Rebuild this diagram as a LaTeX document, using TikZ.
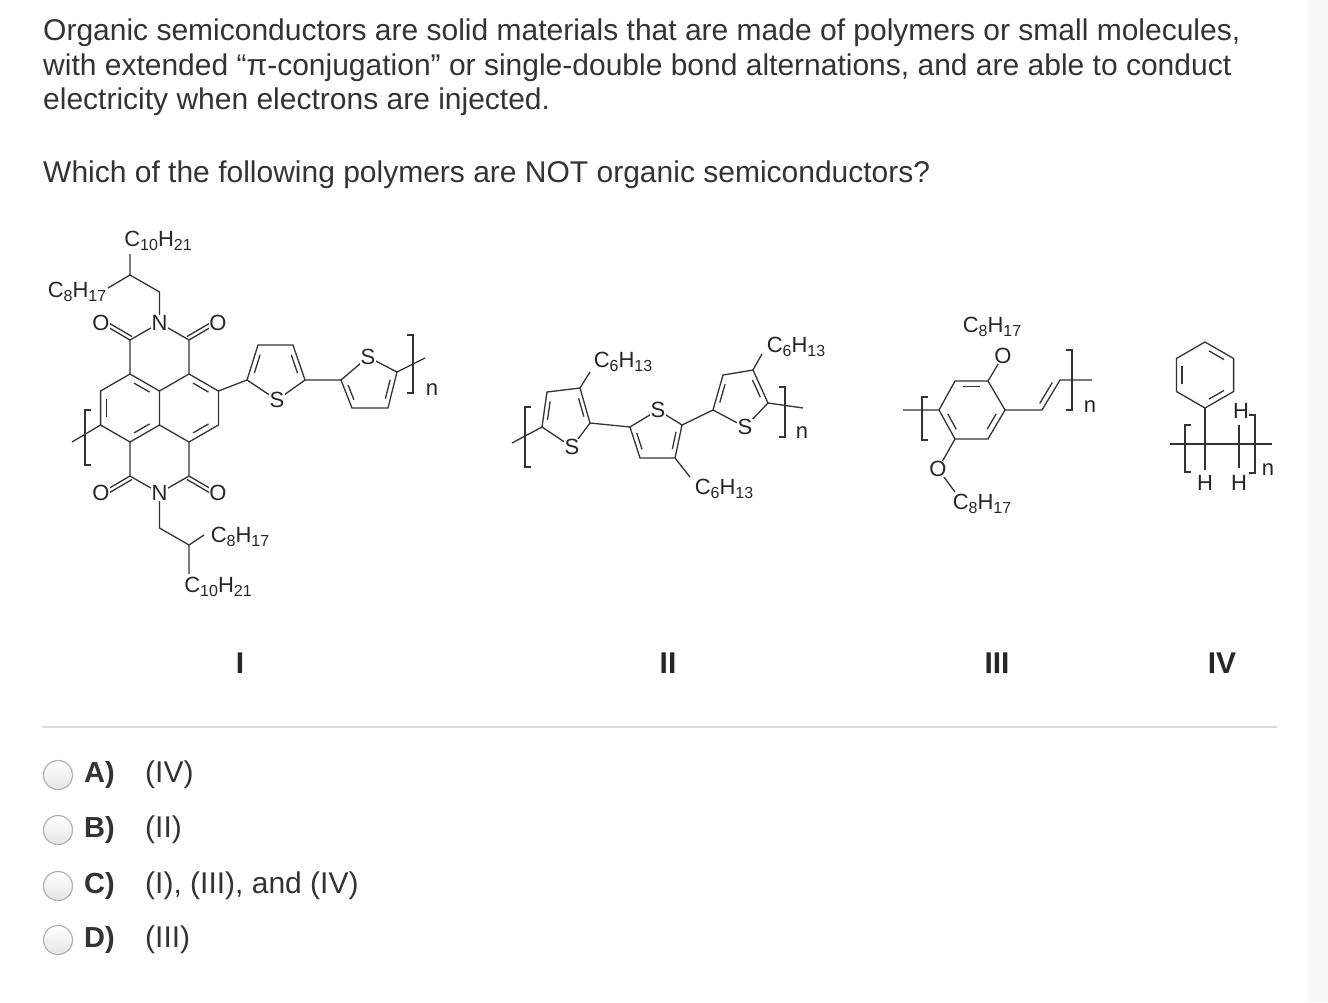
\documentclass[tikz,border=0pt]{standalone}
\usepackage{fontspec}
\setmainfont{Liberation Sans}
\usetikzlibrary{calc}
\newcommand\chf{\fontsize{22}{23}\selectfont}
\newcommand\sbs[1]{\raisebox{-0.3ex}{\fontsize{16}{16}\selectfont #1}}
\newcommand\dbl[3]{\draw[bond] ($($(#1)!0.17!(#2)$)!0.2!(#3)$) -- ($($(#2)!0.17!(#1)$)!0.2!(#3)$);}
\newcommand\dblo[2]{\draw[bond] ($(#1)!4pt!90:(#2)$) -- ($(#2)!4pt!-90:(#1)$);}
\tikzset{
 bond/.style={line width=1.3pt, draw=black!80},
 atom/.style={font=\chf, fill=white, inner sep=0.5pt, text=black!85},
 lab/.style={font=\chf, inner sep=0pt, text=black!85},
 txt/.style={font=\fontsize{30}{34}\selectfont, anchor=west, inner sep=0pt, text=black!80},
 num/.style={font=\fontsize{30}{30}\selectfont\bfseries, inner sep=0pt, text=black!85},
 opt/.style={circle, minimum size=29pt, inner sep=0pt, draw=black!30, line width=1.2pt, top color=white, bottom color=black!10},
}
\begin{document}
\begin{tikzpicture}[x=1pt,y=-1pt]
\useasboundingbox (0,0) rectangle (1328,1002);
\fill[black!3] (1308,0) rectangle (1328,1002);
% text
\node[txt] (t1) at (43,33) {Organic semiconductors are solid materials that are made of polymers or small molecules,};
\node[txt] (t2) at (43,68) {with extended “π-conjugation” or single-double bond alternations, and are able to conduct};
\node[txt] (t3) at (43,102) {electricity when electrons are injected.};
\node[txt] (q) at (43,175) {Which of the following polymers are NOT organic semiconductors?};
% ===== Structure I =====
\foreach \n/\x/\y in {Lt/130/374,Lur/159.5/391,Llr/159.5/425,Lb/130/442,Lll/100.6/425,Lul/100.6/391,
 Rt/189/374,Rur/218.4/391,Rlr/218.4/425,Rb/189/442,Lc/130/408,Rc/189/408,
 C1/130/340,C2/189/340,N1/159.5/323,O1/101/323,O2/218/323,
 C3/130/476,C4/189/476,N2/159.5/493,O3/101/493,O4/218/493,
 a1/159.5/292,a2/130/275,a3/130/254,a4/108/288,
 b1/159.5/528,b2/189/545,b3/204/535,b4/189/574,
 e1/72/442,
 t1a/247/380,t1b/258/345,t1c/293/345,t1d/305/380,t1s/277/400,t1m/276/370,
 t2a/341/380,t2b/352/408,t2c/388/408,t2d/397/372,t2s/368/357,t2m/369/386,e2/425/358}
 {\coordinate (\n) at (\x,\y);}
\draw[bond] (Lt)--(Lur)--(Llr)--(Lb)--(Lll)--(Lul)--cycle;
\draw[bond] (Lur)--(Rt)--(Rur)--(Rlr)--(Rb)--(Llr);
\dbl{Lul}{Lll}{Lc}\dbl{Lt}{Lur}{Lc}\dbl{Lb}{Llr}{Lc}\dbl{Rt}{Rur}{Rc}\dbl{Rlr}{Rb}{Rc}
\draw[bond] (Lt)--(C1)--(N1)--(C2)--(Rt);
\draw[bond] (Lb)--(C3)--(N2)--(C4)--(Rb);
\draw[bond] (C1)--(O1) (C2)--(O2) (C3)--(O3) (C4)--(O4);
\dblo{O1}{C1}\dblo{C2}{O2}\dblo{C3}{O3}\dblo{O4}{C4}
\draw[bond] (N1)--(a1)--(a2)--(a3) (a2)--(a4);
\draw[bond] (N2)--(b1)--(b2)--(b3) (b2)--(b4);
\draw[bond] (Lll)--(e1) (Rur)--(t1a);
\draw[bond] (t1a)--(t1b)--(t1c)--(t1d)--(t1s)--cycle;
\dbl{t1a}{t1b}{t1m}\dbl{t1c}{t1d}{t1m}
\draw[bond] (t1d)--(t2a) (t2d)--(e2);
\draw[bond] (t2a)--(t2b)--(t2c)--(t2d)--(t2s)--cycle;
\dbl{t2a}{t2b}{t2m}\dbl{t2c}{t2d}{t2m}
\draw[bond] (91,410)--(85,410)--(85,465)--(91,465);
\draw[bond] (407,335)--(413,335)--(413,393)--(407,393);
\node[atom] (nN1) at (N1) {N}; \node[atom] (nN2) at (N2) {N};
\node[atom] (nO1) at (O1) {O}; \node[atom] (nO2) at (O2) {O};
\node[atom] (nO3) at (O3) {O}; \node[atom] (nO4) at (O4) {O};
\node[atom] (nS1) at (t1s) {S}; \node[atom] (nS2) at (t2s) {S};
\node[lab] (c10a) at (158,241) {C\sbs{10}H\sbs{21}};
\node[lab] (c8a) at (77,292) {C\sbs{8}H\sbs{17}};
\node[lab] (c8b) at (240,537) {C\sbs{8}H\sbs{17}};
\node[lab] (c10b) at (218,587) {C\sbs{10}H\sbs{21}};
\node[lab] (n1) at (432,390) {n};
\node[num] (L1) at (240,663) {I};
% ===== Structure II =====
\foreach \n/\x/\y in {as/572/447, ac5/542/427,ac4/547/392,ac3/580/388,ac2/590/423,am/566/415,
 bs/658/410,bc2/630/427,bc3/640/458,bc4/675/458,bc5/682/425,bm/657/436,
 cs/745/427,cc2/713/410,cc3/723/375,cc4/753/370,cc5/768/403,cm/740/397,
 s1/590/372,s2/690/477,s3/762/354,f1/512/443,f2/803/408}
 {\coordinate (\n) at (\x,\y);}
\draw[bond] (ac2)--(ac3)--(ac4)--(ac5)--(as)--cycle;
\dbl{ac5}{ac4}{am}\dbl{ac3}{ac2}{am}
\draw[bond] (bc2)--(bc3)--(bc4)--(bc5)--(bs)--cycle;
\dbl{bc2}{bc3}{bm}\dbl{bc4}{bc5}{bm}
\draw[bond] (cc2)--(cc3)--(cc4)--(cc5)--(cs)--cycle;
\dbl{cc2}{cc3}{cm}\dbl{cc4}{cc5}{cm}
\draw[bond] (ac2)--(bc2) (bc5)--(cc2) (ac3)--(s1) (bc4)--(s2) (cc4)--(s3) (ac5)--(f1) (cc5)--(f2);
\draw[bond] (531,407)--(525,407)--(525,467)--(531,467);
\draw[bond] (779,387)--(785,387)--(785,437)--(779,437);
\node[atom] (sA) at (as) {S}; \node[atom] (sB) at (bs) {S}; \node[atom] (sC) at (cs) {S};
\node[lab] (h1) at (623,362) {C\sbs{6}H\sbs{13}};
\node[lab] (h2) at (724,489) {C\sbs{6}H\sbs{13}};
\node[lab] (h3) at (796,347) {C\sbs{6}H\sbs{13}};
\node[lab] (n2) at (802,433) {n};
\node[num] (L2) at (668,663) {II};
% ===== Structure III =====
\foreach \n/\x/\y in {pL/939/410,pUL/955/381,pUR/988/381,pR/1005/410,pLR/988/439,pLL/955/439,pc/972/410,
 pO1/1003/356,pO2/938/469,pq/955/492,g1/903/410,v1/1042/410,v2/1060/380,v3/1092/380}
 {\coordinate (\n) at (\x,\y);}
\draw[bond] (pL)--(pUL)--(pUR)--(pR)--(pLR)--(pLL)--cycle;
\dbl{pUL}{pUR}{pc}\dbl{pR}{pLR}{pc}\dbl{pLL}{pL}{pc}
\draw[bond] (pUR)--(pO1) (pLL)--(pO2)--(pq) (pL)--(g1) (pR)--(v1)--(v2)--(v3);
\draw[bond] ($(v1)!0.15!(v2)+(-5,-2)$)--($(v2)!0.15!(v1)+(-5,-2)$);
\draw[bond] (928,397)--(922,397)--(922,440)--(928,440);
\draw[bond] (1066,350)--(1072,350)--(1072,410)--(1066,410);
\node[atom] (oo1) at (pO1) {O}; \node[atom] (oo2) at (pO2) {O};
\node[lab] (c8c) at (992,327) {C\sbs{8}H\sbs{17}};
\node[lab] (c8d) at (982,504) {C\sbs{8}H\sbs{17}};
\node[lab] (n3) at (1090,407) {n};
\node[num] (L3) at (997,663) {III};
% ===== Structure IV =====
\foreach \n/\x/\y in {zt/1205/342,zur/1233.6/358.5,zlr/1233.6/391.5,zb/1205/408,zll/1176.4/391.5,zul/1176.4/358.5,zc/1205/375,
 k1/1170/444,k2/1272/444,m1/1205/470,m2/1239/425,m3/1239/468}
 {\coordinate (\n) at (\x,\y);}
\draw[bond] (zt)--(zur)--(zlr)--(zb)--(zll)--(zul)--cycle;
\dbl{zt}{zur}{zc}\dbl{zlr}{zb}{zc}\dbl{zll}{zul}{zc}
\draw[bond] (k1)--(k2) (zb)--(m1) (m2)--(m3);
\draw[bond] (1191,425)--(1185,425)--(1185,472)--(1191,472);
\draw[bond] (1249,415)--(1255,415)--(1255,473)--(1249,473);
\node[lab] (hh1) at (1241,411) {H};
\node[lab] (hh2) at (1205,483) {H};
\node[lab] (hh3) at (1239,483) {H};
\node[lab] (n4) at (1268,470) {n};
\node[num] (L4) at (1222,663) {IV};
% rule
\draw[black!15, line width=1.2pt] (42,727) -- (1277,727);
% options
\foreach \i/\y/\l/\t in {a/775/A)/(IV), b/830/B)/(II), c/886/C)/{(I), (III), and (IV)}, d/940/D)/(III)}{
 \node[opt] (o\i) at (58,\y) {};
 \node[txt, font=\fontsize{29}{30}\selectfont\bfseries] (ol\i) at (84,\y) {\l};
 \node[txt] (ot\i) at (145,\y) {\t};
}
\end{tikzpicture}
\end{document}
